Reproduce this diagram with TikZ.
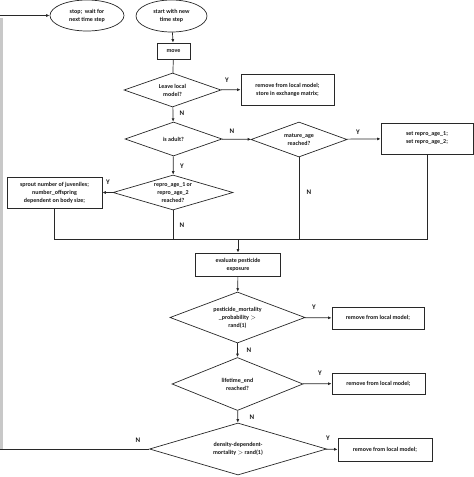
\documentclass[tikz,border=0pt]{standalone}
\usepackage{fontspec}
\setmainfont{Carlito}
\usetikzlibrary{shapes.geometric, arrows.meta, positioning}
\definecolor{flowline}{RGB}{40, 40, 40}
\definecolor{backline}{RGB}{200, 200, 200}

\begin{document}
\begin{tikzpicture}[x=1pt, y=-1pt,
    every node/.style={font=\fontsize{6}{8}\selectfont\bfseries, text=black!90},
    term/.style={ellipse, draw=flowline, line width=0.7pt, inner sep=0pt, align=center},
    box/.style={rectangle, draw=flowline, line width=0.7pt, inner sep=1pt, align=center},
    decision/.style={diamond, draw=flowline, line width=0.7pt, inner sep=0pt, align=center},
    yn/.style={font=\fontsize{7}{8}\selectfont\bfseries, inner sep=0pt},
    flow/.style={draw=flowline, line width=0.7pt},
    arr/.style={flow, -{Latex[length=3.5pt, width=3pt]}}]
    \useasboundingbox (0,0) rectangle (474,477);

    % Start / stop
    \node[term, minimum width=74pt, minimum height=31pt] (stop) at (87,15.5) {stop;\ \ wait for\\next time step};
    \node[term, minimum width=71pt, minimum height=32pt] (start) at (171.5,16) {start with new\\time step};

    % Upper column
    \node[box, minimum width=33pt, minimum height=16pt] (move) at (173.5,51) {move};
    \node[decision, minimum width=97pt, minimum height=34pt, aspect=2.85] (leave) at (172.5,90) {Leave local\\model?};
    \node[box, minimum width=93pt, minimum height=31pt] (rmA) at (287.5,89.5) {remove from local model;\\store in exchange matrix;};
    \node[decision, minimum width=97pt, minimum height=34pt, aspect=2.85] (adult) at (173.5,139) {is adult?};
    \node[decision, minimum width=96pt, minimum height=35pt, aspect=2.75] (mature) at (299,139.5) {mature\_age\\reached?};
    \node[box, minimum width=92pt, minimum height=31pt] (setrep) at (427,138.5) {set repro\_age\_1;\\set repro\_age\_2;};
    \node[decision, minimum width=120pt, minimum height=35pt, aspect=3.4] (repro) at (173,192.5) {repro\_age\_1 or\\repro\_age\_2\\reached?};
    \node[box, minimum width=95pt, minimum height=31pt] (sprout) at (54.5,192.5) {sprout number of juveniles;\\number\_offspring\\dependent on body size;};

    % Lower column
    \node[box, minimum width=85pt, minimum height=23pt] (evaluate) at (238,264.5) {evaluate pesticide\\exposure};
    \node[decision, minimum width=135pt, minimum height=51pt, aspect=2.65] (pest) at (237.5,317.5) {pesticide\_mortality\\\_probability $>$\\rand(1)};
    \node[box, minimum width=92pt, minimum height=22pt] (rmB) at (378,318) {remove from local model;};
    \node[decision, minimum width=131pt, minimum height=53pt, aspect=2.5] (life) at (237.5,384) {lifetime\_end\\reached?};
    \node[box, minimum width=93pt, minimum height=21pt] (rmC) at (378.5,383.5) {remove from local model;};
    \node[decision, minimum width=177pt, minimum height=52pt, aspect=3.4] (dens) at (238,449) {density-dependent-\\mortality $>$ rand(1)};
    \node[box, minimum width=94pt, minimum height=23pt] (rmD) at (385,449.5) {remove from local model;};

    % Helper points
    \coordinate (jy) at (0,239);
    \coordinate (join) at (238,239);
    \coordinate (bl) at (0,449);
    \coordinate (tl) at (0,15.5);

    % Arrows
    \draw[arr] (start) -- (move);
    \draw[flow] (move) -- (leave);
    \draw[arr] (leave) -- (rmA);
    \draw[arr] (leave) -- (adult);
    \draw[arr] (adult) -- (mature);
    \draw[arr] (mature) -- (setrep);
    \draw[arr] (adult) -- (repro);
    \draw[arr] (repro) -- (sprout);
    \draw[flow] (repro.south) -- (repro.south |- jy);
    \draw[flow] (mature.south) -- (mature.south |- jy);
    \draw[flow] (sprout.south) -- (sprout.south |- jy) -| (setrep.south);
    \draw[arr] (join) -- (evaluate);
    \draw[arr] (evaluate) -- (pest);
    \draw[arr] (pest) -- (rmB);
    \draw[arr] (pest) -- (life);
    \draw[arr] (life) -- (rmC);
    \draw[arr] (life) -- (dens);
    \draw[arr] (dens) -- (rmD);

    % Loop back to stop
    \draw[flow] (dens.west) -- (bl);
    \draw[draw=backline, line width=2.5pt] ([xshift=1.5pt]bl) -- ([xshift=1.5pt, yshift=-2pt]tl);
    \draw[arr] (tl) -- (stop);

    % Labels
    \node[yn] (yA) at (227,80) {Y};
    \node[yn] (nA) at (182,113) {N};
    \node[yn] (nB) at (232,131) {N};
    \node[yn] (yB) at (358,132) {Y};
    \node[yn] (yC) at (182,166) {Y};
    \node[yn] (yD) at (108,182) {Y};
    \node[yn] (nC) at (182,225) {N};
    \node[yn] (nD) at (309,192) {N};
    \node[yn] (yE) at (314,307) {Y};
    \node[yn] (nE) at (249,350) {N};
    \node[yn] (yF) at (320,373) {Y};
    \node[yn] (nF) at (252,417) {N};
    \node[yn] (yG) at (328,438) {Y};
    \node[yn] (nG) at (138,440) {N};
\end{tikzpicture}
\end{document}
